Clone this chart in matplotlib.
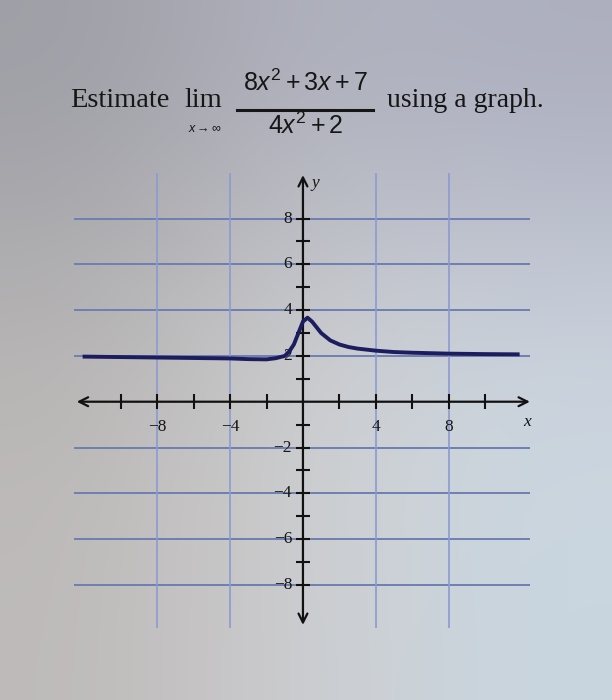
import numpy as np
import matplotlib
matplotlib.use("Agg")
import matplotlib.pyplot as plt
from matplotlib.lines import Line2D

# ================================================================================
# values
curve_x = [-12, -10, -8, -6, -4, -3, -2, -1.5, -1, -0.75, -0.5, -0.25, 0,
           0.25, 0.5, 0.75, 1, 1.5, 2, 2.5, 3, 4, 5, 6, 8, 10, 11.8]
curve_y = [1.97, 1.95, 1.93, 1.91, 1.89, 1.86, 1.85, 1.90, 2.0, 2.2, 2.5, 3.0, 3.5,
           3.67, 3.5, 3.25, 3.0, 2.68, 2.5, 2.39, 2.32, 2.23, 2.17, 2.14, 2.10, 2.08, 2.07]

x_ticks = [-10, -8, -6, -4, -2, 2, 4, 6, 8, 10]
x_labels = [-8, -4, 4, 8]
y_ticks = [-8, -7, -6, -5, -4, -3, -2, -1, 1, 2, 3, 4, 5, 6, 7, 8]
y_labels = [-8, -6, -4, -2, 2, 4, 6, 8]
h_grid = [-8, -6, -4, -2, 2, 4, 6, 8]
v_grid = [-8, -4, 4, 8]

# ================================================================================
plt.rcParams['mathtext.fontset'] = 'custom'
plt.rcParams['mathtext.rm'] = 'Liberation Sans'
plt.rcParams['mathtext.it'] = 'Liberation Sans:italic'

W, H = 612, 700
fig = plt.figure(figsize=(W / 100, H / 100), dpi=100)

# photo-like background (screen shot with vignette)
bg = fig.add_axes([0, 0, 1, 1])
bg_cols = np.array([
    [[158, 158, 166], [176, 178, 190], [172, 174, 190]],
    [[184, 182, 180], [210, 210, 210], [206, 214, 224]],
    [[190, 186, 186], [206, 206, 208], [200, 214, 224]],
]) / 255.0
bg.imshow(bg_cols, extent=[0, 1, 0, 1], aspect='auto', interpolation='bicubic')
bg.axis('off')


def px(x, y):
    return x / W, 1 - y / H


# ================================================================================
# title line
ink = '#161616'
fig.text(*px(70, 107), "Estimate", fontsize=20.5, family='Liberation Serif',
         color=ink, ha='left', va='baseline')
fig.text(*px(184, 107), "lim", fontsize=20.5, family='Liberation Serif',
         color=ink, ha='left', va='baseline')
fig.text(*px(205, 132), r"$x\rightarrow\infty$", fontsize=9,
         color=ink, ha='center', va='baseline')
fig.text(*px(305, 91), r"$8x^2 + 3x + 7$", fontsize=18,
         color=ink, ha='center', va='baseline')
fig.add_artist(Line2D([237 / W, 373 / W], [1 - 110 / H, 1 - 110 / H],
                      color=ink, lw=2.2))
fig.text(*px(306, 134), r"$4x^2 + 2$", fontsize=18,
         color=ink, ha='center', va='baseline')
fig.text(*px(387, 107), "using a graph.", fontsize=20, family='Liberation Serif',
         color=ink, ha='left', va='baseline')

# ================================================================================
# graph
ax = fig.add_axes([60 / W, 1 - 635 / H, 485 / W, 470 / H])
ax.set_xlim(-13.35, 13.3)
ax.set_ylim(-10.19, 10.34)
ax.axis('off')
ax.patch.set_alpha(0)

ax.hlines(h_grid, -12.6, 12.5, color='#6f7fb2', lw=1.4, zorder=1)
ax.vlines(v_grid, -9.9, 10.0, color='#8c9ad0', lw=1.2, zorder=1)

ax.annotate('', xy=(12.47, 0), xytext=(-12.43, 0),
            arrowprops=dict(arrowstyle='<->', lw=1.6, color='#111111',
                            mutation_scale=16, shrinkA=0, shrinkB=0), zorder=3)
ax.annotate('', xy=(0, 9.9), xytext=(0, -9.75),
            arrowprops=dict(arrowstyle='<->', lw=1.6, color='#111111',
                            mutation_scale=16, shrinkA=0, shrinkB=0), zorder=3)

ax.vlines(x_ticks, -0.32, 0.32, color='#111111', lw=1.5, zorder=3)
ax.hlines(y_ticks, -0.4, 0.4, color='#111111', lw=1.5, zorder=3)

for v in x_labels:
    ax.text(v, -1.1, str(v).replace('-', '\u2212'), fontsize=12.5,
            family='Liberation Serif', ha='center', va='center', color=ink)
for v in y_labels:
    ax.text(-0.6, v, str(v).replace('-', '\u2212'), fontsize=12.5,
            family='Liberation Serif', ha='right', va='center', color=ink)
ax.text(12.3, -0.9, 'x', fontsize=12.5, family='Liberation Serif', style='italic',
        ha='center', va='center', color=ink)
ax.text(0.45, 9.55, 'y', fontsize=12.5, family='Liberation Serif', style='italic',
        ha='left', va='center', color=ink)

ax.plot(curve_x, curve_y, color='#1c1c5e', lw=2.8, solid_joinstyle='round', zorder=4)

fig.savefig('out.png', dpi=100)
